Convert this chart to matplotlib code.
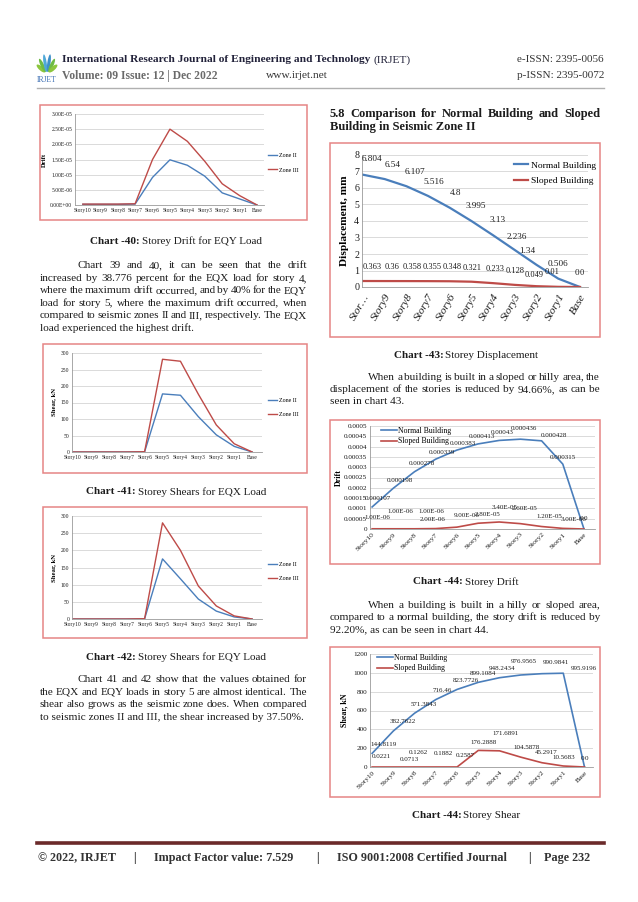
import matplotlib
matplotlib.use("Agg")
import matplotlib.pyplot as plt
from matplotlib.patches import Rectangle, Ellipse
from matplotlib.lines import Line2D
import numpy as np

W, H = 638, 902
SERIF = "Liberation Serif"
BLUE = "#4a7ebb"
RED = "#be4b48"
FRAME = "#e58585"
GRID = "#d4d4d4"
INK = "#1c1c1c"

stories = ["Story10", "Story9", "Story8", "Story7", "Story6", "Story5",
           "Story4", "Story3", "Story2", "Story1", "Base"]

# chart 40 - storey drift EQY (zone II / III)
drift_eqy_z2 = [2e-7, 2e-7, 2e-7, 3e-7, 9.1e-6, 1.49e-5, 1.31e-5, 9.5e-6, 4.0e-6, 2.0e-6, 0]
drift_eqy_z3 = [3e-7, 3e-7, 3e-7, 4e-7, 1.5e-5, 2.5e-5, 2.1e-5, 1.44e-5, 7.0e-6, 3.1e-6, 0]
# chart 41 - storey shear EQX
shear_eqx_z2 = [0, 0, 0, 0, 0.5, 176, 172, 107, 52, 17, 0]
shear_eqx_z3 = [0, 0, 0, 0, 0.8, 281, 275, 175, 82, 25, 0]
# chart 42 - storey shear EQY
shear_eqy_z2 = [0, 0, 0, 0, 0.5, 175, 117, 58, 23, 6, 0]
shear_eqy_z3 = [0, 0, 0, 0, 0.8, 280, 200, 96, 38, 9, 0]
# chart 43 - displacement, mm
disp_normal = [6.804, 6.54, 6.107, 5.516, 4.8, 3.995, 3.13, 2.236, 1.34, 0.506, 0]
disp_sloped = [0.363, 0.36, 0.358, 0.355, 0.348, 0.321, 0.233, 0.128, 0.049, 0.01, 0]
# chart 44 - drift
drift_normal = [0.000107, 0.000198, 0.000278, 0.000339, 0.000383, 0.000413,
                0.00043, 0.000436, 0.000428, 0.000315, 0]
drift_sloped = [1e-6, 1e-6, 1e-6, 2e-6, 9e-6, 2.8e-5, 3.4e-5, 2.6e-5, 1.2e-5, 3e-6, 0]
# chart 44 - shear, kN
shear_normal = [144.8119, 382.7622, 571.3843, 716.46, 823.7726, 899.1084,
                948.2434, 976.9565, 990.9841, 995.9196, 0]
shear_sloped = [0.0221, 0.0713, 0.1262, 0.1882, 0.2587, 176.2888,
                171.6891, 104.5878, 45.2917, 10.5683, 0]

# data label offsets (pixels, right / up) as placed in the original charts
off_disp_normal = [(9, 16), (8, 14), (8, 14), (6, 14), (6, 15), (4, 15), (4, 15),
                   (2, 13), (-9, 14), (0, 15), (-3, 14)]
off_disp_sloped = [(9, 14), (7, 14), (6, 14), (4, 14), (2, 14), (1, 14), (2, 14),
                   (0, 14), (-2, 11), (-6, 15), (2, 14)]
off_drift_normal = [(6, 8), (7, 8), (7, 8), (6, 7), (6, 7), (4, 7), (3, 8), (4, 11),
                    (12, 5), (0, 7), (-2, 10)]
off_drift_sloped = [(5, 11), (7, 17), (17, 17), (-3, 9), (10, 12), (10, 9), (5, 14),
                    (4, 15), (8, 10), (11, 9), (2, 10)]
off_shear_normal = [(11, 9), (9, 9), (9, 9), (6, 9), (9, 9), (5, 9), (3, 9), (3, 14),
                    (14, 11), (21, 5), (-2, 9)]
off_shear_sloped = [(9, 10), (16, 7), (4, 14), (8, 13), (8, 11), (5, 8), (6, 17),
                    (6, 10), (4, 10), (0, 9), (2, 9)]

fig = plt.figure(figsize=(W / 100, H / 100), dpi=100)
fig.patch.set_facecolor("white")
R = fig.canvas.get_renderer()


def fx(x):
    return x / W


def fy(y):
    return 1 - y / H


def add_ax(x0, y0, x1, y1):
    return fig.add_axes([fx(x0), fy(y1), (x1 - x0) / W, (y1 - y0) / H])


def frame(x0, y0, x1, y1):
    fig.add_artist(Rectangle((fx(x0), fy(y1)), (x1 - x0) / W, (y1 - y0) / H,
                             transform=fig.transFigure, fill=False, ec=FRAME, lw=1.1))


def width(t):
    return t.get_window_extent(R).width


def para(lines, x0, x1, y0, dy, indent=0, size=8.1, weight="normal", last_full=False):
    for i, line in enumerate(lines):
        y = y0 + i * dy
        xs = x0 + (indent if i == 0 else 0)
        words = line.split()
        if (i == len(lines) - 1 and not last_full) or len(words) == 1:
            fig.text(fx(xs), fy(y), line, fontsize=size, family=SERIF, fontweight=weight,
                     color=INK, va="center")
            continue
        ts = [fig.text(0, fy(y), w, fontsize=size, family=SERIF, fontweight=weight,
                       color=INK, va="center") for w in words]
        ws = [width(t) for t in ts]
        gap = (x1 - xs - sum(ws)) / (len(words) - 1)
        x = xs
        for t, w in zip(ts, ws):
            t.set_x(fx(x))
            x += w + gap


def caption(xc, y, bold, rest, size=8.0):
    t1 = fig.text(0, fy(y), bold, fontsize=size, family=SERIF, fontweight="bold",
                  color=INK, va="center")
    t2 = fig.text(0, fy(y), rest, fontsize=size, family=SERIF, color=INK, va="center")
    w1, w2 = width(t1), width(t2)
    x0 = xc - (w1 + w2) / 2
    t1.set_x(fx(x0))
    t2.set_x(fx(x0 + w1 + 2))


def style(ax, ymax, ystep, tsize, fmt=None):
    ax.set_ylim(0, ymax)
    ticks = np.arange(0, ymax + ystep / 2, ystep)
    ax.set_yticks(ticks)
    if fmt is not None:
        ax.set_yticklabels([fmt(v) for v in ticks])
    ax.set_xticks(range(len(stories)))
    ax.grid(axis="y", color=GRID, lw=0.6)
    ax.set_axisbelow(True)
    for s in ["top", "right"]:
        ax.spines[s].set_visible(False)
    for s in ["left", "bottom"]:
        ax.spines[s].set_color("#9a9a9a")
        ax.spines[s].set_linewidth(0.6)
    ax.tick_params(length=0, pad=2, labelsize=tsize, colors=INK)
    for lab in ax.get_yticklabels() + ax.get_xticklabels():
        lab.set_family(SERIF)
    ax.patch.set_alpha(0)


def legend(ax, x, y, size, hl=1.2, sp=0.5):
    return ax.legend(loc="upper left", bbox_to_anchor=(fx(x), fy(y)),
                     bbox_transform=fig.transFigure, frameon=False,
                     handlelength=hl, handletextpad=0.25, labelspacing=sp, borderpad=0,
                     borderaxespad=0, prop={"family": SERIF, "size": size})


def labels(ax, values, texts, offsets, size):
    for i, (v, s, o) in enumerate(zip(values, texts, offsets)):
        ax.annotate(s, (i, v), xytext=o, textcoords="offset pixels", ha="center",
                    va="center", fontsize=size, family=SERIF, color=INK)


# ---------------- header ----------------
for ang, col, ln in [(-60, "#8cc63e", 14), (-35, "#6dbb45", 16), (-12, "#4fa8d8", 18),
                     (12, "#3d8fc8", 18), (35, "#6dbb45", 16), (60, "#8cc63e", 14)]:
    a = np.radians(ang)
    cx, cy = 47 + np.sin(a) * ln / 2, 72 - np.cos(a) * ln / 2
    fig.add_artist(Ellipse((fx(cx), fy(cy)), 3.2 / W, ln / H, angle=-ang,
                           transform=fig.transFigure, color=col, lw=0))
fig.text(fx(47), fy(80), "IRJET", fontsize=5.5, family=SERIF, color="#3d6fb4",
         ha="center", va="center")
t = fig.text(fx(62), fy(60), "International Research Journal of Engineering and Technology",
             fontsize=8.2, family=SERIF, fontweight="bold", color="#22223a", va="center")
fig.text(fx(62 + width(t) + 3), fy(60), "(IRJET)", fontsize=8.2, family=SERIF,
         color="#22223a", va="center")
fig.text(fx(604), fy(60), "e-ISSN: 2395-0056", fontsize=8.0, family=SERIF, color="#333",
         ha="right", va="center")
fig.text(fx(62), fy(76), "Volume: 09 Issue: 12 | Dec 2022", fontsize=8.4, family=SERIF,
         fontweight="bold", color="#6a6a6a", va="center")
fig.text(fx(266), fy(76), "www.irjet.net", fontsize=8.2, family=SERIF, color="#333",
         va="center")
fig.text(fx(604), fy(76), "p-ISSN: 2395-0072", fontsize=8.0, family=SERIF, color="#333",
         ha="right", va="center")
fig.add_artist(Line2D([fx(37), fx(604)], [fy(88), fy(88)], transform=fig.transFigure,
                      color="#b0b0b0", lw=1.0))

# ---------------- chart 40 ----------------
frame(40, 105, 307, 220)
ax = add_ax(75, 114, 264, 205)
ax.plot(range(11), drift_eqy_z2, color=BLUE, lw=1.0, label="Zone II")
ax.plot(range(11), drift_eqy_z3, color=RED, lw=1.0, label="Zone III")
style(ax, 3e-5, 5e-6, 4.0, fmt=lambda v: "%.2E" % v)
ax.set_xlim(-0.45, 10.4)
ax.set_xticklabels(stories)
ax.set_ylabel("Drift", fontsize=4.8, fontweight="bold", family=SERIF, labelpad=2)
legend(ax, 268, 153, 4.2, hl=1.6, sp=1.6)

caption(175, 241, "Chart -40:", "Storey Drift for EQY Load")
para(["Chart 39 and 40, it can be seen that the drift",
      "increased by 38.776 percent for the EQX load for story 4,",
      "where the maximum drift occurred, and by 40% for the EQY",
      "load for story 5, where the maximum drift occurred, when",
      "compared to seismic zones II and III, respectively. The EQX",
      "load experienced the highest drift."], 40, 307, 266, 12.4, indent=38)

# ---------------- chart 41 ----------------
frame(43, 344, 307, 473)
ax = add_ax(72, 353, 262, 452)
ax.plot(range(11), shear_eqx_z2, color=BLUE, lw=1.0, label="Zone II")
ax.plot(range(11), shear_eqx_z3, color=RED, lw=1.0, label="Zone III")
style(ax, 300, 50, 4.0)
ax.set_xlim(-0.05, 10.55)
ax.set_xticklabels(stories)
ax.set_ylabel("Shear, kN", fontsize=4.8, fontweight="bold", family=SERIF, labelpad=3)
legend(ax, 268, 398, 4.2, hl=1.6, sp=1.6)
caption(175, 492, "Chart -41:", "Storey Shears for EQX Load")

# ---------------- chart 42 ----------------
frame(43, 507, 307, 638)
ax = add_ax(72, 516, 262, 619)
ax.plot(range(11), shear_eqy_z2, color=BLUE, lw=1.0, label="Zone II")
ax.plot(range(11), shear_eqy_z3, color=RED, lw=1.0, label="Zone III")
style(ax, 300, 50, 4.0)
ax.set_xlim(-0.05, 10.55)
ax.set_xticklabels(stories)
ax.set_ylabel("Shear, kN", fontsize=4.8, fontweight="bold", family=SERIF, labelpad=3)
legend(ax, 268, 562, 4.2, hl=1.6, sp=1.6)
caption(175, 657, "Chart -42:", "Storey Shears for EQY Load")
para(["Chart 41 and 42 show that the values obtained for",
      "the EQX and EQY loads in story 5 are almost identical. The",
      "shear also grows as the seismic zone does. When compared",
      "to seismic zones II and III, the shear increased by 37.50%."],
     40, 307, 680, 12.4, indent=38)

# ---------------- right column heading ----------------
para(["5.8 Comparison for Normal Building and Sloped",
      "Building in Seismic Zone II"], 330, 600, 114, 12.6, size=9.0, weight="bold")

# ---------------- chart 43 ----------------
frame(330, 143, 600, 337)
ax = add_ax(362, 155, 588, 287)
ax.plot(range(11), disp_normal, color=BLUE, lw=1.6, label="Normal Building")
ax.plot(range(11), disp_sloped, color=RED, lw=1.6, label="Sloped Building")
style(ax, 8, 1, 7.2)
ax.set_xlim(-0.05, 10.37)
ax.set_xticklabels(["Stor…"] + stories[1:], rotation=60, ha="right", va="top",
                   rotation_mode="anchor", fontsize=8, style="italic")
ax.tick_params(axis="x", pad=4)
ax.set_ylabel("Displacement, mm", fontsize=8.2, fontweight="bold", family=SERIF, labelpad=4)
labels(ax, disp_normal, [str(v) for v in disp_normal], off_disp_normal, 6.6)
labels(ax, disp_sloped, [str(v) for v in disp_sloped], off_disp_sloped, 6.0)
legend(ax, 514, 161, 6.8, hl=1.5, sp=0.7)
caption(465, 355, "Chart -43:", "Storey Displacement")
para(["When a building is built in a sloped or hilly area, the",
      "displacement of the stories is reduced by 94.66%, as can be",
      "seen in chart 43."], 330, 600, 377, 12.4, indent=38)

# ---------------- chart 44 drift ----------------
frame(330, 420, 600, 564)
ax = add_ax(370, 426, 595, 529)
ax.plot(range(11), drift_normal, color=BLUE, lw=1.2, label="Normal Building")
ax.plot(range(11), drift_sloped, color=RED, lw=1.2, label="Sloped Building")
style(ax, 0.0005, 0.00005, 5.2,
      fmt=lambda v: ("%.5f" % v).rstrip("0").rstrip("."))
ax.set_xlim(-0.1, 10.52)
ax.set_xticklabels(stories, rotation=45, ha="right", va="top", rotation_mode="anchor",
                   fontsize=5.4)
ax.set_ylabel("Drift", fontsize=5.8, fontweight="bold", family=SERIF, labelpad=1)
labels(ax, drift_normal, ["%g" % v for v in drift_normal], off_drift_normal, 5.0)
labels(ax, drift_sloped, ["%.2E" % v if v else "0" for v in drift_sloped],
       off_drift_sloped, 5.0)
legend(ax, 381, 427, 5.6, hl=2.0, sp=0.3)
caption(465, 582, "Chart -44:", "Storey Drift")
para(["When a building is built in a hilly or sloped area,",
      "compared to a normal building, the story drift is reduced by",
      "92.20%, as can be seen in chart 44."], 330, 600, 605, 12.4, indent=38)

# ---------------- chart 44 shear ----------------
frame(330, 647, 600, 797)
ax = add_ax(370, 654, 593, 767)
ax.plot(range(11), shear_normal, color=BLUE, lw=1.2, label="Normal Building")
ax.plot(range(11), shear_sloped, color=RED, lw=1.2, label="Sloped Building")
style(ax, 1200, 200, 5.2)
ax.set_xlim(-0.1, 10.4)
ax.set_xticklabels(stories, rotation=45, ha="right", va="top", rotation_mode="anchor",
                   fontsize=5.2)
ax.set_ylabel("Shear, kN", fontsize=5.8, fontweight="bold", family=SERIF, labelpad=3)
labels(ax, shear_normal, [str(v) for v in shear_normal], off_shear_normal, 5.0)
labels(ax, shear_sloped, [str(v) for v in shear_sloped], off_shear_sloped, 5.0)
legend(ax, 377, 654, 5.6, hl=2.0, sp=0.3)
caption(465, 816, "Chart -44:", "Storey Shear")

# ---------------- footer ----------------
fig.add_artist(Line2D([fx(37), fx(604)], [fy(843), fy(843)], transform=fig.transFigure,
                      color="#6b2a2a", lw=2.6))
for x, s in [(38, "© 2022, IRJET"), (133, "|"), (154, "Impact Factor value: 7.529"),
             (316, "|"), (337, "ISO 9001:2008 Certified Journal"), (528, "|"),
             (544, "Page 232")]:
    fig.text(fx(x), fy(858), s, fontsize=8.7, family=SERIF, fontweight="bold",
             color="#333", va="center")

fig.savefig("out.png", dpi=100)
